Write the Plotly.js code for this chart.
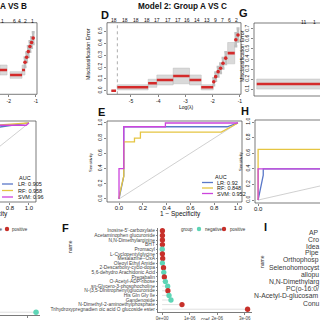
<!DOCTYPE html>
<html>
<head>
<meta charset="utf-8">
<script src="https://cdn.plot.ly/plotly-3.0.1.min.js"></script>
<style>html,body{margin:0;padding:0;background:#fff}#chart{width:320px;height:320px}</style>
</head>
<body>
<div id="chart"></div>
<script>
// ---------- Lasso CV, Model 1 (Group A vs B), right end of the curve ----------
const cvA_runStart = [-2.32, -1.95, -1.51];
const cvA_runEnd   = [-2.06, -1.51, -1.40];
const cvA_runMean  = [0.175, 0.133, 0.175];
const cvA_runSE    = [0.042, 0.028, 0.042];
const cvA_ptX  = [-1.40, -1.34, -1.28, -1.22, -1.16, -1.10];
const cvA_ptY  = [0.240, 0.283, 0.330, 0.373, 0.407, 0.444];
const cvA_ptSE = [0.040, 0.040, 0.045, 0.045, 0.045, 0.050];
const cvA_topX = [-2.21, -1.77, -1.59, -1.37, -1.11];
const cvA_topN = ["1", "6", "4", "2", "1"];

// ---------- Lasso CV, Model 2 (Group A vs C) ----------
const cvD_runStart = [-5.72, -5.50, -4.37, -4.05, -3.45, -2.85, -2.42, -1.45];
const cvD_runEnd   = [-5.55, -4.37, -4.05, -3.45, -2.85, -2.42, -1.98, -1.19];
const cvD_runMean  = [0.000, 0.029, 0.063, 0.091, 0.125, 0.091, 0.029, 0.317];
const cvD_runSE    = [0.004, 0.022, 0.034, 0.042, 0.066, 0.042, 0.022, 0.090];
const cvD_ptX  = [-1.96, -1.89, -1.80, -1.71, -1.62, -1.52, -1.15, -1.07];
const cvD_ptY  = [0.076, 0.119, 0.161, 0.190, 0.232, 0.275, 0.430, 0.470];
const cvD_ptSE = [0.030, 0.035, 0.040, 0.040, 0.045, 0.050, 0.055, 0.055];
const cvD_lambdaLine = -5.50;
const cvD_topX = [-5.62, -5.22, -4.82, -4.41, -4.05, -3.64, -3.28, -2.95, -2.58, -2.22, -1.89, -1.63, -1.37, -1.12];
const cvD_topN = ["18", "18", "18", "18", "17", "17", "17", "16", "14", "13", "9", "7", "6", "2"];

// ---------- Lasso CV, Model 3 (left end) ----------
const cvG_runStart = [-5.90];
const cvG_runEnd   = [-3.40];
const cvG_runMean  = [0.150];
const cvG_runSE    = [0.050];
const cvG_topX = [-4.17, -3.80];
const cvG_topN = ["11", "1"];

// ---------- ROC, Model 1 ----------
const rocB_LR_fpr  = [0, 0, 0.10, 0.10, 0.60, 1];
const rocB_LR_tpr  = [0, 0.50, 0.50, 0.93, 0.93, 1];
const rocB_RF_fpr  = [0, 0, 0.05, 0.05, 0.50, 1];
const rocB_RF_tpr  = [0, 0.80, 0.80, 0.96, 0.96, 1];
const rocB_SVM_fpr = [0, 0, 0.02, 0.02, 0.97, 1];
const rocB_SVM_tpr = [0, 0.60, 0.60, 0.97, 0.97, 1];
const rocB_auc = ["LR: 0.905", "RF: 0.958", "SVM: 0.96"];

// ---------- ROC, Model 2 ----------
const rocE_LR_fpr  = [0, 0.04, 0.04, 0.91, 1];
const rocE_LR_tpr  = [0, 0.30, 0.95, 0.95, 1];
const rocE_RF_fpr  = [0, 0.01, 0.04, 0.04, 0.13, 0.13, 0.18, 0.18, 0.86, 1];
const rocE_RF_tpr  = [0, 0.10, 0.30, 0.75, 0.75, 0.80, 0.80, 0.88, 0.88, 1];
const rocE_SVM_fpr = [0, 0, 0.04, 0.04, 0.39, 0.39, 1];
const rocE_SVM_tpr = [0, 0.40, 0.40, 0.95, 0.95, 1, 1];
const rocE_auc = ["LR: 0.92", "RF: 0.848", "SVM: 0.952"];

// ---------- ROC, Model 3 (left end) ----------
const rocH_LR_fpr  = [0, 0.015, 0.015, 0.50, 1];
const rocH_LR_tpr  = [0, 0.32, 0.40, 0.40, 1];
const rocH_RF_fpr  = [0, 0, 0.60, 0.60, 1];
const rocH_RF_tpr  = [0, 0.65, 0.65, 1, 1];
const rocH_SVM_fpr = [0, 0, 0.70, 0.70, 1];
const rocH_SVM_tpr = [0, 0.40, 0.40, 1, 1];

// ---------- Feature importance, Model 1 (last row) ----------
const impL_value = [8.28e-7];
const impL_group = ["negative"];

// ---------- Feature importance, Model 2 (top row first) ----------
const impF_name = [
  "Inosine-5'-carboxylate", "Acetaminophen glucuronide", "N,N-Dimethylarginine", "BHT",
  "Promacyl", "L-Cyclopentylglycine", "Mesalazine--OxA", "Oleoyl Ethyl Amide",
  "2-Descarboxy-cyclo-dopa", "5,6-dehydro Arachidonic Acid", "Pregabalin", "O-Acetyl-ADP-ribose",
  "sn-Glycero-3-phosphocholine", "N-(3,5-Dinitrophenyl)glucuronide", "His Gln Gly Ile", "Gandenoside",
  "N-Dimethyl-2-aminoethylphosphate", "Trihydroxypregnadien oic acid O glucoside ester"
];
const impF_value = [0.01e-6, 0.01e-6, 0.01e-6, 0.01e-6, 0.005e-6, 0.01e-6, 0.02e-6, 0.01e-6,
  0.05e-6, 0.06e-6, 0.08e-6, 0.12e-6, 0.20e-6, 0.21e-6, 0.25e-6, 0.32e-6, 0.72e-6, 3.10e-6];
const impF_group = ["positive", "positive", "positive", "positive", "negative", "positive", "positive", "negative",
  "positive", "negative", "positive", "negative", "negative", "positive", "negative", "negative", "positive", "positive"];

// ---------- Feature names, Model 3 (left part) ----------
const impI_name = ["AP", "Cro", "Idea", "Pipe", "Orthophosp", "Selenohomocyst", "allopu",
  "N,N-Dimethylarg", "PC(o-16:0/", "N-Acetyl-D-glucosam", "Conu"];

// ================= drawing =================
const W = 320, H = 320;
const FONT = '"Liberation Sans", Arial, Helvetica, sans-serif';
const RED = '#D42A2A';
const BAND = 'rgba(208,208,208,0.8)';
const C_LR = '#5A78C8', C_RF = '#E5C542', C_SVM = '#CC44DD';
const C_POS = '#C7302A', C_NEG = '#5ED5B6';
const fx = p => p / W;
const fy = p => 1 - p / H;
const xd = (a, b) => [fx(a), Math.min(1, fx(b))];
const yd = (top, bottom) => [fy(bottom), fy(top)];

const traces = [];
const annotations = [];
const shapes = [];

function text(t, px, py, size, o, color) {
  annotations.push(Object.assign({
    text: t, x: fx(px), y: fy(py), xref: 'paper', yref: 'paper', showarrow: false,
    xanchor: 'center', yanchor: 'middle', borderpad: 0,
    font: { family: FONT, size: size, color: color || '#111' }
  }, o || {}));
}
function box(x0, y0, x1, y1) {
  shapes.push({ type: 'rect', xref: 'paper', yref: 'paper', x0: fx(x0), x1: fx(x1), y0: fy(y1), y1: fy(y0),
    line: { color: '#444', width: 0.7 }, fillcolor: 'rgba(0,0,0,0)' });
}
function cv(ax, ay, rs, re, rm, rse, px, py, pse) {
  const bx = [], by = [], lx = [], ly = [];
  rs.forEach((s, i) => {
    const e = re[i], m = rm[i], se = rse[i];
    bx.push(s, e, e, s, s, null); by.push(m - se, m - se, m + se, m + se, m - se, null);
    lx.push(s, e, null); ly.push(m, m, null);
  });
  traces.push({ type: 'scatter', mode: 'lines', x: bx, y: by, fill: 'toself', fillcolor: BAND,
    line: { color: '#BDBDBD', width: 0.5 }, xaxis: ax, yaxis: ay, hoverinfo: 'skip' });
  if (px) traces.push({ type: 'scatter', mode: 'markers', x: px, y: py, marker: { size: 1, color: 'rgba(0,0,0,0)' },
    error_y: { type: 'data', array: pse, visible: true, color: 'rgba(185,185,185,0.9)', thickness: 2.5, width: 1.5 },
    xaxis: ax, yaxis: ay });
  traces.push({ type: 'scatter', mode: 'lines', x: lx, y: ly, line: { color: RED, width: 2.6 }, xaxis: ax, yaxis: ay });
  if (px) traces.push({ type: 'scatter', mode: 'markers', x: px, y: py, marker: { size: 3.6, color: RED }, xaxis: ax, yaxis: ay });
}
function roc(ax, ay, sets) {
  traces.push({ type: 'scatter', mode: 'lines', x: [0, 1], y: [0, 1], line: { color: '#C4C4C4', width: 0.8 }, xaxis: ax, yaxis: ay });
  sets.forEach(s => traces.push({ type: 'scatter', mode: 'lines', x: s[0], y: s[1], line: { color: s[2], width: 1.3 }, xaxis: ax, yaxis: ay }));
}
function axis(extra) {
  return Object.assign({ showgrid: false, zeroline: false, showline: false, ticks: 'outside', ticklen: 2,
    tickwidth: 0.6, tickcolor: '#333', tickfont: { family: FONT, size: 5, color: '#111' }, fixedrange: true }, extra);
}
const cvYticks = { tickvals: [0, 0.1, 0.2, 0.3, 0.4, 0.5], ticktext: ["0.0", "0.1", "0.2", "0.3", "0.4", "0.5"], tickangle: -90 };
const rocTicks = [0, 0.2, 0.4, 0.6, 0.8, 1.0];
const rocText = ["0.0", "0.2", "0.4", "0.6", "0.8", "1.0"];
const rocX = { tickvals: rocTicks, ticktext: rocText, tickfont: { family: FONT, size: 6, color: '#111' }, ticklen: 1.5, ticklabelstandoff: -2 };

// --- top row: CV curves ---
cv('x', 'y', cvA_runStart, cvA_runEnd, cvA_runMean, cvA_runSE, cvA_ptX, cvA_ptY, cvA_ptSE);
traces.push({ type: 'scatter', mode: 'lines', x: [cvD_lambdaLine, cvD_lambdaLine], y: [-0.03, 0.574],
  line: { color: '#888', width: 0.7, dash: 'dot' }, xaxis: 'x2', yaxis: 'y2' });
cv('x2', 'y2', cvD_runStart, cvD_runEnd, cvD_runMean, cvD_runSE, cvD_ptX, cvD_ptY, cvD_ptSE);
cv('x3', 'y3', cvG_runStart, cvG_runEnd, cvG_runMean, cvG_runSE, null, null, null);

cvA_topX.forEach((v, i) => annotations.push({ text: cvA_topN[i], x: v, xref: 'x', y: fy(16), yref: 'paper',
  showarrow: false, font: { family: FONT, size: 5, color: '#111' } }));
cvD_topX.forEach((v, i) => annotations.push({ text: cvD_topN[i], x: v, xref: 'x2', y: fy(15), yref: 'paper',
  showarrow: false, font: { family: FONT, size: 5, color: '#111' } }));
cvG_topX.forEach((v, i) => annotations.push({ text: cvG_topN[i], x: v, xref: 'x3', y: fy(17), yref: 'paper',
  showarrow: false, font: { family: FONT, size: 5, color: '#111' } }));

box(-60, 22.7, 37, 94.3);
box(107, 22.7, 241, 94.3);
box(254, 23, 400, 96);
text('<b>Model 1: Group A VS B</b>', 27.5, 6.5, 8.2, { xanchor: 'right' });
text('<b>Model 2: Group A VS C</b>', 182, 6.5, 8.2);
text('<b>D</b>', 105, 15, 11);
text('<b>G</b>', 243, 13, 11);
text('Misclassification Error', 88, 54, 5.3, { textangle: -90 });
text('Misclassification Error', 242, 56, 5.3, { textangle: -90 });
text('Log(\u03bb)', 186, 107, 5);

// --- middle row: ROC curves ---
roc('x4', 'y4', [[rocB_LR_fpr, rocB_LR_tpr, C_LR], [rocB_RF_fpr, rocB_RF_tpr, C_RF], [rocB_SVM_fpr, rocB_SVM_tpr, C_SVM]]);
roc('x5', 'y5', [[rocE_LR_fpr, rocE_LR_tpr, C_LR], [rocE_RF_fpr, rocE_RF_tpr, C_RF], [rocE_SVM_fpr, rocE_SVM_tpr, C_SVM]]);
roc('x6', 'y6', [[rocH_LR_fpr, rocH_LR_tpr, C_LR], [rocH_RF_fpr, rocH_RF_tpr, C_RF], [rocH_SVM_fpr, rocH_SVM_tpr, C_SVM]]);
box(-100, 121, 36, 202);
box(107, 121, 242, 202);
box(255, 120, 400, 203);
text('<b>E</b>', 101, 112, 11);
text('<b>H</b>', 245, 111, 11);
text('Sensitivity', 90, 162, 4.2, { textangle: -90 });
text('Sensitivity', 240, 161, 4.2, { textangle: -90 });
text('1 \u2212 Specificity', 180, 213.5, 6.5);
text('1 \u2212 Specificity', 8.5, 213.5, 6.5, { xanchor: 'right' });

function rocLegend(lineX0, lineX1, textX, titleX, ys, labels) {
  text('AUC', titleX, ys[0], 5.5);
  [C_LR, C_RF, C_SVM].forEach((c, i) => {
    shapes.push({ type: 'line', xref: 'paper', yref: 'paper', x0: fx(lineX0), x1: fx(lineX1),
      y0: fy(ys[i + 1]), y1: fy(ys[i + 1]), line: { color: c, width: 1.3 } });
    text(labels[i], textX, ys[i + 1], 5.5, { xanchor: 'left' });
  });
}
rocLegend(202, 213, 216, 221, [177, 182.5, 188, 193.5], rocE_auc);
rocLegend(2, 13, 16.5, 25, [178, 184, 190.5, 197], rocB_auc);

// --- bottom row: lollipop importance (row 1 = bottom line) ---
const rowL = impL_value.map((v, i) => i + 1);
traces.push({ type: 'scatter', mode: 'lines',
  x: impL_value.flatMap(v => [0, v, null]), y: rowL.flatMap(r => [r, r, null]),
  line: { color: '#D8D8D8', width: 0.8 }, xaxis: 'x7', yaxis: 'y7' });
traces.push({ type: 'scatter', mode: 'markers', x: impL_value, y: rowL,
  marker: { size: 5.5, color: impL_group.map(g => g === 'positive' ? C_POS : C_NEG) }, xaxis: 'x7', yaxis: 'y7' });

const nF = impF_name.length;
const rowF = impF_name.map((n, i) => nF - i);
traces.push({ type: 'scatter', mode: 'lines',
  x: impF_value.flatMap(v => [0, v, null]), y: rowF.flatMap(r => [r, r, null]),
  line: { color: '#D8D8D8', width: 0.8 }, xaxis: 'x8', yaxis: 'y8' });
traces.push({ type: 'scatter', mode: 'markers', x: impF_value, y: rowF,
  marker: { size: 5.3, color: impF_group.map(g => g === 'positive' ? C_POS : C_NEG) }, xaxis: 'x8', yaxis: 'y8' });

function legendDot(px, py, c) {
  shapes.push({ type: 'circle', xref: 'paper', yref: 'paper', x0: fx(px - 2.2), x1: fx(px + 2.2),
    y0: fy(py + 2.2), y1: fy(py - 2.2), fillcolor: c, line: { width: 0 } });
}
text('negative', 3.5, 229, 4.5, { xanchor: 'right' }, '#333');
legendDot(7, 229, C_POS);
text('positive', 10.5, 229, 4.5, { xanchor: 'left' }, '#333');
text('group', 187, 229, 4.5, null, '#333');
legendDot(199, 229, C_NEG);
text('negative', 204, 229, 4.5, { xanchor: 'left' }, '#333');
legendDot(224, 229, C_POS);
text('positive', 228.5, 229, 4.5, { xanchor: 'left' }, '#333');
text('<b>F</b>', 65, 228, 11);
text('<b>I</b>', 265, 227, 11);
text('name', 70, 247, 5, { textangle: -90 }, '#333');
text('name', 262, 262, 5, { textangle: -90 }, '#333');
text('coef', 205, 319, 4.5, null, '#333');

impI_name.forEach((n, i) => text(n, 319.5, 232 + i * 7.1, 6.8, { xanchor: 'right' }, '#3a3a3a'));

const layout = {
  width: W, height: H, margin: { l: 0, r: 0, t: 0, b: 0 },
  paper_bgcolor: '#fff', plot_bgcolor: 'rgba(0,0,0,0)', showlegend: false,
  font: { family: FONT, color: '#111' },
  xaxis:  axis({ domain: xd(0, 37), range: [-2.32, -0.96], anchor: 'y', tickvals: [-3, -2, -1], ticktext: ["-3", "-2", "-1"] }),
  yaxis:  axis({ domain: yd(22.7, 94.3), range: [-0.03, 0.574], anchor: 'x', showticklabels: false, ticks: '' }),
  xaxis2: axis({ domain: xd(107, 241), range: [-5.88, -0.96], anchor: 'y2', tickvals: [-5, -4, -3, -2, -1], ticktext: ["-5", "-4", "-3", "-2", "-1"] }),
  yaxis2: axis(Object.assign({ domain: yd(22.7, 94.3), range: [-0.03, 0.574], anchor: 'x2' }, cvYticks)),
  xaxis3: axis({ domain: xd(254, 320), range: [-6.0, -3.58], anchor: 'y3', showticklabels: false, ticks: '' }),
  yaxis3: axis({ domain: yd(23, 96), range: [0.031, 0.759], anchor: 'x3', tickangle: -90,
    tickvals: [0.1, 0.2, 0.3, 0.4, 0.5, 0.6, 0.7], ticktext: ["0.1", "0.2", "0.3", "0.4", "0.5", "0.6", "0.7"] }),
  xaxis4: axis(Object.assign({ domain: xd(0, 36), range: [0.695, 1.074], anchor: 'y4' }, rocX)),
  yaxis4: axis({ domain: yd(121, 202), range: [-0.04, 1.026], anchor: 'x4', showticklabels: false, ticks: '' }),
  xaxis5: axis(Object.assign({ domain: xd(107, 242), range: [-0.101, 1.034], anchor: 'y5' }, rocX)),
  yaxis5: axis({ domain: yd(121, 202), range: [-0.04, 1.026], anchor: 'x5', tickvals: rocTicks, ticktext: rocText, tickangle: -90 }),
  xaxis6: axis(Object.assign({ domain: xd(255, 320), range: [-0.009, 0.18], anchor: 'y6' }, rocX)),
  yaxis6: axis({ domain: yd(120, 203), range: [-0.038, 1.026], anchor: 'x6', tickvals: rocTicks, ticktext: rocText, tickangle: -90 }),
  xaxis7: axis({ domain: xd(0, 40), range: [5.172e-7, 8.62e-7], anchor: 'y7', showline: true, linecolor: '#222', linewidth: 0.6,
    tickvals: [5.0e-7, 7.5e-7], ticktext: ["5.0e-07", "7.5e-07"], tickfont: { family: FONT, size: 4.4, color: '#444' } }),
  yaxis7: axis({ domain: yd(231, 315), range: [0.4, 18.6], anchor: 'x7', showticklabels: false, ticks: '' }),
  xaxis8: axis({ domain: xd(158, 252), range: [-1.5e-7, 3.26e-6], anchor: 'y8', showline: true, linecolor: '#222', linewidth: 0.6,
    tickvals: [0, 1e-6, 2e-6, 3e-6], ticktext: ["0e+00", "1e-06", "2e-06", "3e-06"], tickfont: { family: FONT, size: 4.5, color: '#444' } }),
  yaxis8: axis({ domain: yd(228, 312), range: [0.4, nF + 0.6], anchor: 'x8',
    tickmode: 'array', tickvals: rowF, ticktext: impF_name,
    showline: true, linecolor: '#222', linewidth: 0.6, ticklen: 1.5,
    tickfont: { family: FONT, size: 4.9, color: '#444' } }),
  annotations: annotations,
  shapes: shapes
};

Plotly.newPlot('chart', traces, layout, { staticPlot: true, displayModeBar: false });
</script>
</body>
</html>
